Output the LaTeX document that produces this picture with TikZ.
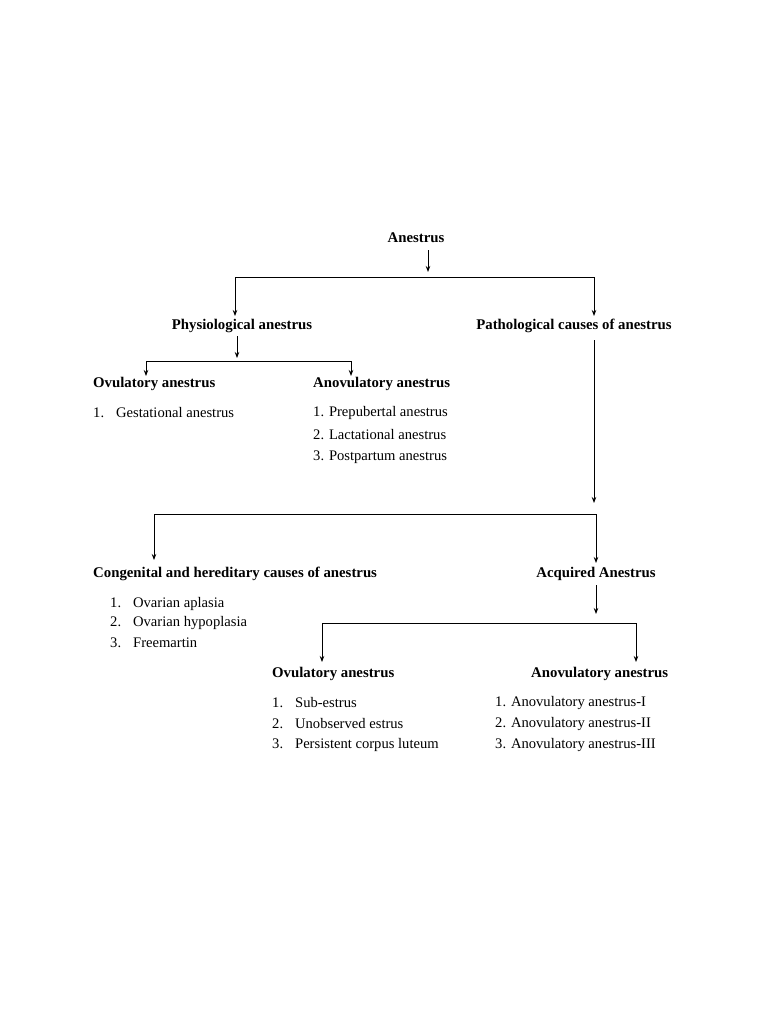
\documentclass[tikz,border=0pt]{standalone}
\usepackage{fontspec}
\setmainfont{Liberation Serif}
\usetikzlibrary{arrows.meta}
\begin{document}
\begin{tikzpicture}[x=1pt,y=-1pt,
  h/.style={font=\fontsize{14.8}{16}\selectfont\bfseries,inner sep=0pt},
  t/.style={font=\fontsize{14.6}{16}\selectfont,inner sep=0pt,anchor=west},
  arr/.style={-{Stealth[length=6pt,width=4.5pt]},line width=0.8pt},
  ln/.style={line width=0.8pt}]
\useasboundingbox (0,0) rectangle (768,1024);
\node[h] (an) at (416,238) {Anestrus};
\node[h] (phys) at (242,326) {Physiological anestrus};
\node[h] (path) at (574,326) {Pathological causes of anestrus};
\node[h,anchor=west] (ov1) at (93,384) {Ovulatory anestrus};
\node[h,anchor=west] (anov1) at (313,384) {Anovulatory anestrus};
\node[t] (g1) at (93,413) {1.\hspace{12pt}Gestational anestrus};
\node[t] (p1) at (313,413) {1. Prepubertal anestrus};
\node[t] (p2) at (313,435) {2. Lactational anestrus};
\node[t] (p3) at (313,457) {3. Postpartum anestrus};
\node[h,anchor=west] (cong) at (93,574) {Congenital and hereditary causes of anestrus};
\node[h] (acq) at (596,574) {Acquired Anestrus};
\node[t] (c1) at (110,604) {1.\hspace{12pt}Ovarian aplasia};
\node[t] (c2) at (110,623) {2.\hspace{12pt}Ovarian hypoplasia};
\node[t] (c3) at (110,643) {3.\hspace{12pt}Freemartin};
\node[h,anchor=west] (ov2) at (272,674) {Ovulatory anestrus};
\node[h,anchor=west] (anov2) at (531,674) {Anovulatory anestrus};
\node[t] (o1) at (272,703) {1.\hspace{12pt}Sub-estrus};
\node[t] (o2) at (272,724) {2.\hspace{12pt}Unobserved estrus};
\node[t] (o3) at (272,745) {3.\hspace{12pt}Persistent corpus luteum};
\node[t] (a1) at (495,703) {1. Anovulatory anestrus-I};
\node[t] (a2) at (495,724) {2. Anovulatory anestrus-II};
\node[t] (a3) at (495,745) {3. Anovulatory anestrus-III};
% connectors
\coordinate (j1) at (428,272);
\draw[arr] (428,250) -- (j1);
\draw[ln] (235,277) -- (594,277);
\draw[arr] (235,277) -- (235,316);
\draw[arr] (594,277) -- (594,316);
\draw[arr] (237,336) -- (237,358);
\draw[ln] (146,361) -- (351,361);
\draw[arr] (146,361) -- (146,376);
\draw[arr] (351,361) -- (351,376);
\draw[arr] (594,340) -- (594,503);
\draw[ln] (154,514) -- (596,514);
\draw[arr] (154,514) -- (154,560);
\draw[arr] (596,514) -- (596,563);
\draw[arr] (596,585) -- (596,614);
\draw[ln] (322,623) -- (636,623);
\draw[arr] (322,623) -- (322,662);
\draw[arr] (636,623) -- (636,662);
\end{tikzpicture}
\end{document}
